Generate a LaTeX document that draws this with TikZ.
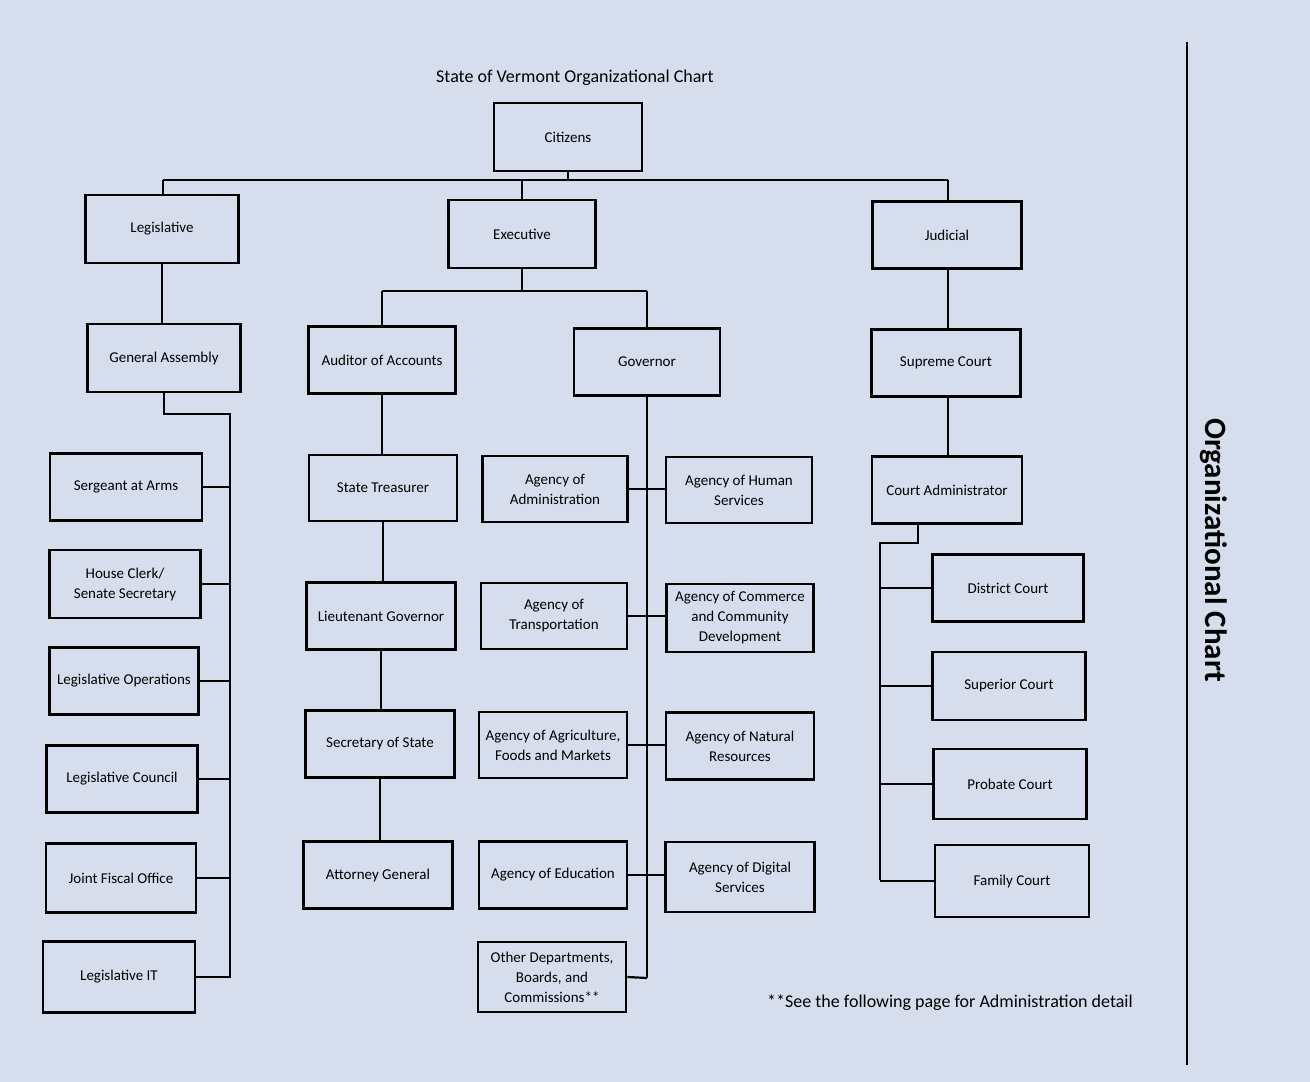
\documentclass[tikz,border=0pt]{standalone}
\usepackage{fontspec}
\setmainfont{Carlito}
\begin{document}
\begin{tikzpicture}[x=1pt,y=-1pt,
 box/.style={draw=black,line width=2.6pt,align=center,inner sep=2pt,font=\fontsize{15}{20}\selectfont},
 ln/.style={line width=2.2pt}]
\fill[fill={rgb,255:red,214;green,221;blue,236}] (0,0) rectangle (1310,1082);
\useasboundingbox (0,0) rectangle (1310,1082);
\newcommand{\bx}[6]{\node[box,minimum width=#4pt,minimum height=#5pt] (#1) at (#2,#3) {#6};}
\node[font=\fontsize{18}{21}\selectfont] (title) at (575,78) {State of Vermont Organizational Chart};
\bx{cit}{568}{137}{148}{68}{Citizens}
\bx{leg}{162}{229}{153}{68}{Legislative}
\bx{exe}{522}{234}{147}{68}{Executive}
\bx{jud}{947}{235}{149}{67}{Judicial}
\bx{ga}{164}{358}{153}{68}{General Assembly}
\bx{aud}{382}{360}{147}{67}{Auditor of Accounts}
\bx{gov}{647}{362}{146}{67}{Governor}
\bx{tre}{383}{488}{148}{66}{State Treasurer}
\bx{lg}{381}{616}{149}{67}{Lieutenant Governor}
\bx{sos}{380}{744}{149}{67}{Secretary of State}
\bx{ag}{378}{875}{149}{67}{Attorney General}
\bx{adm}{555}{489}{145}{66}{Agency of\\Administration}
\bx{tra}{554}{616}{146}{66}{Agency of\\Transportation}
\bx{agr}{553}{745}{148}{66}{Agency of Agriculture,\\Foods and Markets}
\bx{edu}{553}{875}{148}{67}{Agency of Education}
\bx{oth}{552}{977}{148}{70}{Other Departments,\\Boards, and\\Commissions**}
\bx{hum}{739}{490}{146}{66}{Agency of Human\\Services}
\bx{com}{740}{618}{147}{68}{Agency of Commerce\\and Community\\Development}
\bx{nat}{740}{746}{148}{67}{Agency of Natural\\Resources}
\bx{dig}{740}{877}{149}{70}{Agency of Digital\\Services}
\bx{sgt}{126}{487}{152}{67}{Sergeant at Arms}
\bx{hc}{125}{584}{151}{68}{House Clerk/\\Senate Secretary}
\bx{lo}{124}{681}{149}{67}{Legislative Operations}
\bx{lc}{122}{779}{151}{67}{Legislative Council}
\bx{jf}{121}{878}{150}{69}{Joint Fiscal Office}
\bx{lit}{119}{977}{152}{71}{Legislative IT}
\bx{sup}{946}{363}{149}{67}{Supreme Court}
\bx{ca}{947}{490}{150}{67}{Court Administrator}
\bx{dc}{1008}{588}{151}{67}{District Court}
\bx{sc}{1009}{686}{153}{68}{Superior Court}
\bx{pc}{1010}{784}{153}{70}{Probate Court}
\bx{fc}{1012}{881}{154}{72}{Family Court}
% top bus
\coordinate (busL) at (163,180); \coordinate (busR) at (948,180);
\draw[ln] (busL) -- (busR);
\draw[ln] (cit.south) -- (568,180);
\draw[ln] (busL) -- (leg.north -| busL);
\draw[ln] (522,180) -- (exe.north);
\draw[ln] (busR) -- (jud.north -| busR);
\draw[ln] (leg.south) -- (ga.north -| leg.south);
% executive
\draw[ln] (exe.south) -- (522,291);
\draw[ln] (382,291) -- (647,291);
\draw[ln] (382,291) -- (aud.north); \draw[ln] (647,291) -- (gov.north);
\draw[ln] (aud.south) -- (tre.north -| aud.south);
\draw[ln] (tre.south) -- (lg.north -| tre.south);
\draw[ln] (lg.south) -- (sos.north -| lg.south);
\draw[ln] (sos.south) -- (ag.north -| sos.south);
\coordinate (gend) at (647,978);
\draw[ln] (gov.south) -- (gend);
\draw[ln] (adm.east) -- (adm.east -| hum.west);
\draw[ln] (tra.east) -- (tra.east -| com.west);
\draw[ln] (agr.east) -- (agr.east -| nat.west);
\draw[ln] (edu.east) -- (edu.east -| dig.west);
\draw[ln] (oth.east) -- (gend);
% legislative
\coordinate (lend) at (230,978);
\draw[ln] (ga.south) -- (164,414) -- (230,414) -- (lend);
\foreach \n in {sgt,hc,lo,lc,jf,lit} \draw[ln] (\n.east) -- (\n.east -| lend);
% judicial
\draw[ln] (jud.south -| busR) -- (sup.north -| busR);
\draw[ln] (sup.south -| busR) -- (ca.north -| busR);
\coordinate (jend) at (880,880);
\draw[ln] (918,524) -- (918,543) -- (880,543) -- (jend);
\foreach \n in {dc,sc,pc,fc} \draw[ln] (\n.west -| jend) -- (\n.west);
\node[font=\fontsize{18}{21}\selectfont] (note) at (950,1003) {**See the following page for Administration detail};
\coordinate (vt) at (1187,42); \coordinate (vb) at (1187,1065);
\draw[line width=2pt] (vt) -- (vb);
\node[rotate=-90,font=\fontsize{31}{34}\selectfont\bfseries] (side) at (1214,550) {Organizational Chart};
\end{tikzpicture}
\end{document}
